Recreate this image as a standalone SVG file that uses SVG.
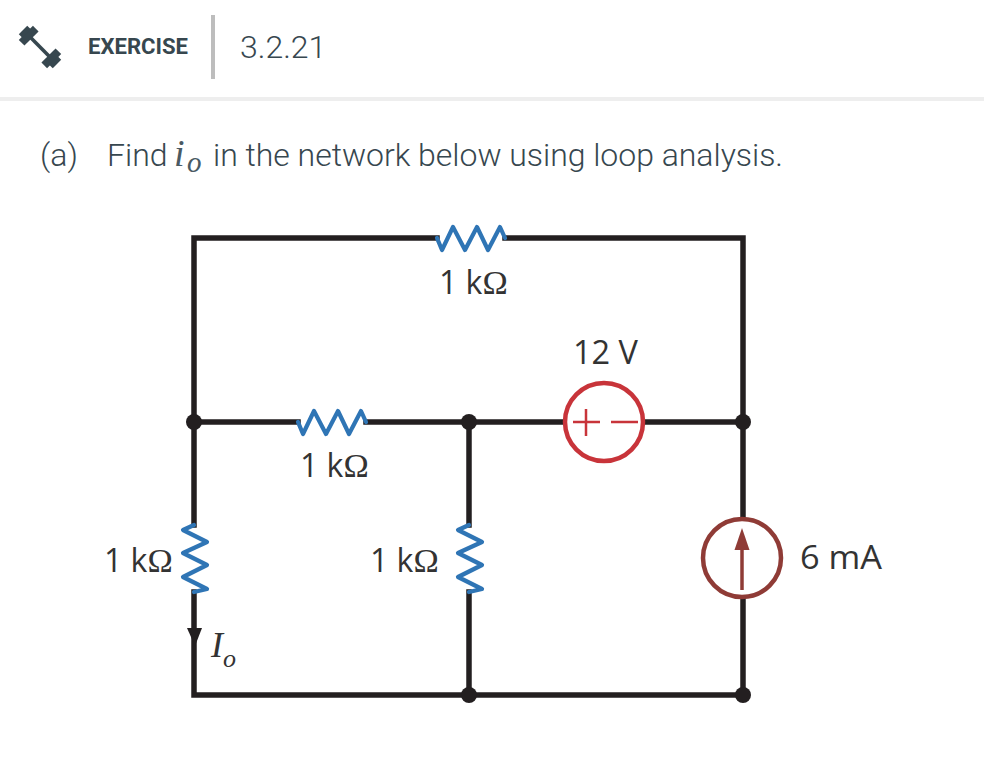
<svg xmlns="http://www.w3.org/2000/svg" width="984" height="776" viewBox="0 0 984 776">
<style>
.w{fill:none;stroke:#231f20;stroke-width:5.5;stroke-linecap:square}
.r{fill:none;stroke:#2f75b5;stroke-width:4.2;stroke-linejoin:round;stroke-linecap:round}
.d{fill:#231f20}
.h{font-family:Roboto,sans-serif;fill:#37474f}
.l{font-family:"Open Sans",sans-serif;font-size:32px;fill:#333}
.o{font-family:"Liberation Serif",serif;font-size:34px}
.m{font-family:"Liberation Serif",serif;font-style:italic}
</style>
<rect width="984" height="776" fill="#fff"/>
<g id="header">
<g id="icon" transform="translate(40 47) rotate(45)" fill="#37474f">
<rect x="-14" y="-1.800" width="28" height="3.600"/>
<rect x="-20" y="-10" width="8" height="20"/>
<rect x="-24" y="-6" width="5" height="12"/>
<rect x="12" y="-10" width="8" height="20"/>
<rect x="19" y="-6" width="5" height="12"/>
</g>
<text class="h" x="88" y="54" font-size="22" font-weight="700" textLength="100" lengthAdjust="spacingAndGlyphs">EXERCISE</text>
<rect x="211" y="15" width="4" height="64" fill="#bdbdbd"/>
<text class="h" x="240" y="58" font-size="32" font-weight="300">3.2.21</text>
<rect x="0" y="97" width="984" height="4" fill="#eeeeee"/>
</g>
<g id="question">
<text class="h" x="40" y="166" font-size="32" font-weight="300">(a)</text>
<text class="h" x="107" y="166" font-size="32" font-weight="300">Find</text>
<text class="m" x="174" y="166" font-size="38" fill="#4a5a63">i</text>
<text class="m" x="187" y="172" font-size="29" fill="#4a5a63">o</text>
<text class="h" x="213" y="166" font-size="32" font-weight="300" textLength="570">in the network below using loop analysis.</text>
</g>
<g id="connectors">
<path class="w" d="M437 238H194V525M194 592V695H743V238H505"/>
<path class="w" d="M194 422H298M366 422H565M642 422H743M469 422V525M469 592V695"/>
</g>
<g id="R1"><polyline class="r" points="437,238 442,250 453,227 465,250 477,227 488,250 500,227 505,238"/><text class="l" x="439" y="294">1 k<tspan class="o">Ω</tspan></text></g>
<g id="R2"><polyline class="r" points="298,422 303,434 314,411 326,434 338,411 349,434 361,411 366,422"/><text class="l" x="300" y="477">1 k<tspan class="o">Ω</tspan></text></g>
<g id="R3"><polyline class="r" points="194,525 183,530 207,542 183,553 207,565 183,577 207,589 194,592"/><text class="l" x="104" y="572">1 k<tspan class="o">Ω</tspan></text></g>
<g id="R4"><polyline class="r" points="469,525 458,530 482,542 458,553 482,565 458,577 482,589 469,592"/><text class="l" x="370" y="572">1 k<tspan class="o">Ω</tspan></text></g>
<g id="Vs">
<circle cx="604" cy="422" r="39" fill="#fff" stroke="#c8343a" stroke-width="4.500"/>
<path d="M573 422H600M586 409V436M611 422H638" fill="none" stroke="#c8343a" stroke-width="2.500"/>
<text class="l" x="573" y="364" textLength="65" lengthAdjust="spacingAndGlyphs">12 V</text>
</g>
<g id="Is">
<circle cx="742" cy="558" r="39" fill="#fff" stroke="#8f3b36" stroke-width="4.500"/>
<path d="M742 548V590" fill="none" stroke="#8f3b36" stroke-width="3.500"/>
<polygon points="742,528 734.500,550 749.500,550" fill="#8f3b36"/>
<text class="l" x="800" y="569" textLength="82" lengthAdjust="spacingAndGlyphs">6 mA</text>
</g>
<g id="junctions">
<circle class="d" cx="194" cy="422" r="8"/>
<circle class="d" cx="469" cy="422" r="8"/>
<circle class="d" cx="743" cy="422" r="8"/>
<circle class="d" cx="469" cy="695" r="8"/>
<circle class="d" cx="743" cy="695" r="8"/>
</g>
<g id="Io">
<polygon class="d" points="187,628 202,628 195,646"/>
<text class="m" x="211" y="657" font-size="36" fill="#333">I</text>
<text class="m" x="223" y="667" font-size="26" fill="#333">o</text>
</g>
</svg>
